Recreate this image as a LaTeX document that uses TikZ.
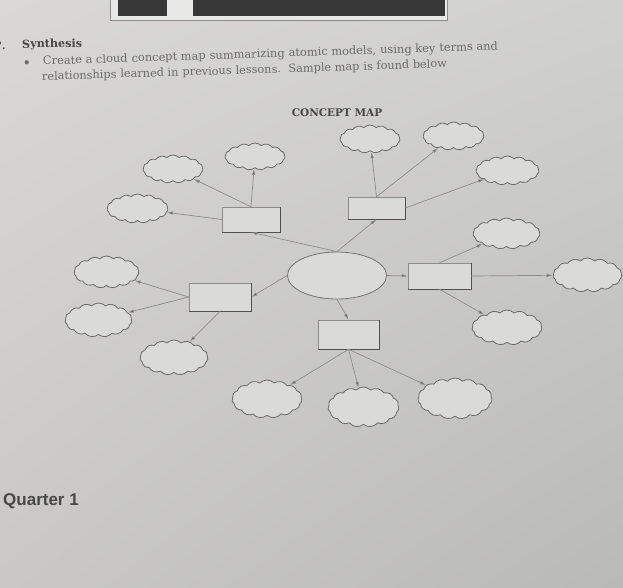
\documentclass[tikz,border=0pt]{standalone}
\usepackage{fontspec}
\newfontfamily\sansb{Liberation Sans}
\newfontfamily\bodyserif{DejaVu Serif}
\usetikzlibrary{shapes.symbols,shapes.geometric,arrows.meta,shadings}
\definecolor{bgA}{HTML}{D9D8D6}
\definecolor{bgB}{HTML}{D0D0CE}
\definecolor{bgC}{HTML}{C9C8C6}
\definecolor{bgD}{HTML}{B9B9B7}
\definecolor{inkline}{HTML}{8C8C8A}
\definecolor{inkdark}{HTML}{505050}
\definecolor{boxfill}{HTML}{DADAD8}
\definecolor{txtgray}{HTML}{6A6A6A}
\begin{document}
\begin{tikzpicture}[x=1pt,y=-1pt,
  cloudnode/.style={cloud, cloud puffs=15, cloud puff arc=90, aspect=2.1, draw=inkdark!85, line width=0.8pt, fill=boxfill, inner sep=0pt},
  boxnode/.style={rectangle, draw=inkline, line width=0.5pt, fill=boxfill, inner sep=0pt},
  ovalnode/.style={ellipse, draw=inkdark!80, line width=0.8pt, fill=boxfill, inner sep=0pt},
  link/.style={draw=inkline, line width=0.7pt, -{Latex[length=6pt,width=3.5pt,fill=inkdark]}},
  shadowline/.style={draw=inkdark, line width=1.3pt},
  lineA/.style={anchor=base west, text=txtgray, font=\bodyserif\fontsize{11.4}{13}\selectfont, rotate=1.9, inner sep=0pt},
  lineB/.style={anchor=base west, text=txtgray, font=\bodyserif\fontsize{11.3}{13}\selectfont, rotate=1.85, inner sep=0pt}
]
\useasboundingbox (0,0) rectangle (623,587);
\shade[upper left=bgA, upper right=bgB, lower left=bgC, lower right=bgD] (0,0) rectangle (623,587);

% header
\draw[draw=inkline, fill=bgA!60!white, line width=0.7pt] (110,-2) rectangle (447,20);
\fill[fill=black!78] (118,-2) rectangle (167,16);
\fill[fill=black!78] (193,-2) rectangle (445,16);

% texts
\node[anchor=base west, text=inkdark, font=\bodyserif\bfseries\fontsize{10}{12}\selectfont, inner sep=0pt] (num) at (-5,49) {7.};
\node[anchor=base west, text=black!72, font=\bodyserif\bfseries\fontsize{11.2}{13}\selectfont, rotate=1, inner sep=0pt] (syn) at (22,48) {Synthesis};
\node[anchor=base west, text=txtgray, font=\fontsize{11}{13}\selectfont, inner sep=0pt] (bul) at (24,65) {$\bullet$};
\node[lineA] (a1) at (43,65) {Create a cloud};
\node[lineA] (a2) at (a1.base east) {\ concept map};
\node[lineA] (a3) at (a2.base east) {\ summarizing};
\node[lineA] (a4) at (a3.base east) {\ atomic models,};
\node[lineA] (a5) at (a4.base east) {\ using key};
\node[lineA] (a6) at (a5.base east) {\ terms and};
\node[lineB] (b1) at (42,80.5) {relationships};
\node[lineB] (b2) at (b1.base east) {\ learned in};
\node[lineB] (b3) at (b2.base east) {\ previous};
\node[lineB] (b4) at (b3.base east) {\ lessons.};
\node[lineB] (b5) at (b4.base east) {\ \ Sample map};
\node[lineB] (b6) at (b5.base east) {\ is found below};
\node[text=black!72, font=\bodyserif\bfseries\fontsize{10.5}{12}\selectfont, inner sep=0pt] (title) at (337,113) {CONCEPT MAP};
\node[anchor=base west, text=black!72, font=\sansb\bfseries\fontsize{17}{19}\selectfont, inner sep=0pt] (q) at (3,505) {Quarter 1};

% central ellipse and boxes
\node[ovalnode, minimum width=99pt, minimum height=47pt] (e) at (337,275.5) {};
\node[boxnode, minimum width=58pt, minimum height=25pt] (r1) at (251,219.5) {};
\node[boxnode, minimum width=57pt, minimum height=22pt] (r2) at (376.5,208) {};
\node[boxnode, minimum width=62pt, minimum height=28pt] (r3) at (220,297) {};
\node[boxnode, minimum width=63pt, minimum height=26pt] (r4) at (439.5,276) {};
\node[boxnode, minimum width=61pt, minimum height=29pt] (r5) at (348.5,334.5) {};
\foreach \r in {r1,r2,r3,r4,r5}{
  \draw[shadowline] (\r.north east) -- (\r.south east) -- (\r.south west);
}

% clouds
\node[cloudnode, minimum width=60pt, minimum height=28pt] (c1) at (173,169) {};
\node[cloudnode, minimum width=60pt, minimum height=27pt] (c2) at (255,156.5) {};
\node[cloudnode, minimum width=61pt, minimum height=29pt] (c3) at (137.5,208.5) {};
\node[cloudnode, minimum width=65pt, minimum height=32pt] (c4) at (106.5,272) {};
\node[cloudnode, minimum width=67pt, minimum height=34pt] (c5) at (98.5,320) {};
\node[cloudnode, minimum width=68pt, minimum height=35pt] (c6) at (174,357.5) {};
\node[cloudnode, minimum width=60pt, minimum height=28pt] (c7) at (370,139) {};
\node[cloudnode, minimum width=61pt, minimum height=28pt] (c8) at (453.5,136) {};
\node[cloudnode, minimum width=63pt, minimum height=29pt] (c9) at (507.5,170.5) {};
\node[cloudnode, minimum width=67pt, minimum height=31pt] (c10) at (506.5,233.5) {};
\node[cloudnode, minimum width=69pt, minimum height=34pt] (c11) at (587.5,275) {};
\node[cloudnode, minimum width=70pt, minimum height=35pt] (c12) at (507,327.5) {};
\node[cloudnode, minimum width=70pt, minimum height=38pt] (c13) at (267,399) {};
\node[cloudnode, minimum width=71pt, minimum height=40pt] (c14) at (363.5,407) {};
\node[cloudnode, minimum width=74pt, minimum height=41pt] (c15) at (455,398.5) {};

% connectors from ellipse
\draw[link] (e.north) -- (r1.south);
\draw[link] (e.north) -- (r2.south);
\draw[link] (e.west) -- (r3.east);
\draw[link] (e.east) -- (r4.west);
\draw[link] (e.south) -- (r5.north);

% connectors from boxes
\draw[link] (r1.north) -- (c1);
\draw[link] (r1.north) -- (c2);
\draw[link] (r1.west) -- (c3);
\draw[link] (r2.north) -- (c7);
\draw[link] (r2.north) -- (c8);
\draw[link] (r2.east) -- (c9);
\draw[link] (r3.west) -- (c4);
\draw[link] (r3.west) -- (c5);
\draw[link] (r3.south) -- (c6);
\draw[link] (r4.north) -- (c10);
\draw[link] (r4.east) -- (c11);
\draw[link] (r4.south) -- (c12);
\draw[link] (r5.south) -- (c13);
\draw[link] (r5.south) -- (c14);
\draw[link] (r5.south) -- (c15);
\end{tikzpicture}
\end{document}
